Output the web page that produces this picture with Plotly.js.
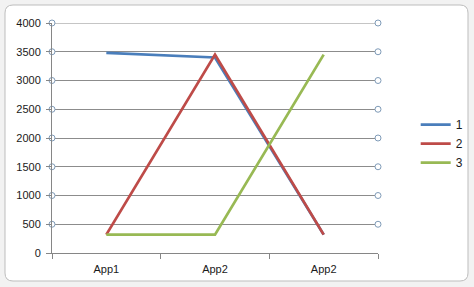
<!DOCTYPE html>
<html><head><meta charset="utf-8">
<script src="https://cdn.plot.ly/plotly-3.0.1.min.js"></script>
<style>html,body{margin:0;padding:0;background:#f2f2f2;}#c{width:474px;height:287px;}</style>
</head><body><div id="c"></div>
<script>
const categories = ['App1', 'App2', 'App2'];
const series1 = [3480, 3400, 320];
const series2 = [320, 3450, 320];
const series3 = [320, 320, 3450];
const seriesNames = ['1', '2', '3'];
const seriesColors = ['#4a7ebb', '#be4b48', '#98b954'];
const yTicks = [0, 500, 1000, 1500, 2000, 2500, 3000, 3500, 4000];

const xs = categories.map((_, i) => i);
const lines = [series1, series2, series3].map((ys, k) => ({
  type: 'scatter', mode: 'lines', x: xs, y: ys, name: seriesNames[k],
  line: {color: seriesColors[k], width: 2.75}
}));

// selection handles on gridline ends (Excel look)
const hx = [], hy = [];
yTicks.filter(v => v > 0).forEach(v => { hx.push(-0.5, 2.5); hy.push(v, v); });
const handles = {type: 'scatter', mode: 'markers', x: hx, y: hy, showlegend: false, hoverinfo: 'skip',
  cliponaxis: false,
  marker: {symbol: 'circle', size: 6, color: '#ffffff', line: {color: '#7f9bb8', width: 1}}};

const font = {family: 'Liberation Sans, Arial, sans-serif', size: 11, color: '#1a1a1a'};
const W = 326, H = 230, L = 52, T = 23;
const px = x => (x - L) / W, py = y => (T + H - y) / H;
const layout = {
  width: 474, height: 287,
  margin: {l: L, r: 474 - L - W, t: T, b: 287 - T - H, pad: 0, autoexpand: false},
  paper_bgcolor: '#f2f2f2', plot_bgcolor: 'rgba(0,0,0,0)',
  font: font,
  showlegend: true,
  legend: {xref: 'container', yref: 'container', x: 0.877, y: 0.5, xanchor: 'left', yanchor: 'middle',
    font: {family: font.family, size: 12, color: '#1a1a1a'}, bgcolor: 'rgba(0,0,0,0)', tracegroupgap: 0, itemwidth: 30},
  xaxis: {range: [-0.5, 2.5], tickvals: xs, ticktext: categories, ticks: '', showgrid: false,
    zeroline: false, showline: true, linecolor: '#868686', linewidth: 1, fixedrange: true, ticklabelstandoff: 6},
  xaxis2: {overlaying: 'x', anchor: 'y', side: 'bottom', range: [-0.5, 2.5],
    tickvals: [-0.5, 0.5, 1.5, 2.5], ticks: 'outside', ticklen: 5, tickcolor: '#868686',
    showticklabels: false, showgrid: false, zeroline: false, showline: false},
  yaxis: {range: [0, 4000], tickvals: yTicks, ticks: 'outside', ticklen: 5, tickcolor: '#868686',
    showgrid: true, gridcolor: '#8c8c8c', gridwidth: 1, zeroline: false,
    showline: true, linecolor: '#868686', linewidth: 1, ticklabelstandoff: 3},
  shapes: [
    {type: 'path', xref: 'paper', yref: 'paper', layer: 'below',
     path: (function(){
       const x0 = 5, x1 = 468, y0 = 5, y1 = 281, r = 8;
       return `M ${px(x0+r)} ${py(y0)} L ${px(x1-r)} ${py(y0)} Q ${px(x1)} ${py(y0)} ${px(x1)} ${py(y0+r)} ` +
         `L ${px(x1)} ${py(y1-r)} Q ${px(x1)} ${py(y1)} ${px(x1-r)} ${py(y1)} L ${px(x0+r)} ${py(y1)} ` +
         `Q ${px(x0)} ${py(y1)} ${px(x0)} ${py(y1-r)} L ${px(x0)} ${py(y0+r)} Q ${px(x0)} ${py(y0)} ${px(x0+r)} ${py(y0)} Z`;
     })(),
     fillcolor: '#ffffff', line: {color: '#bdbdbd', width: 1}},
    {type: 'line', xref: 'paper', yref: 'y', x0: 0, x1: 1, y0: yTicks[yTicks.length - 1], y1: yTicks[yTicks.length - 1],
     layer: 'below', line: {color: '#8c8c8c', width: 1}}
  ]
};
const tickTrace = {type: 'scatter', x: [], y: [], xaxis: 'x2', yaxis: 'y', showlegend: false, hoverinfo: 'skip'};
Plotly.newPlot('c', [handles, ...lines, tickTrace], layout, {staticPlot: true, displayModeBar: false});
</script></body></html>
